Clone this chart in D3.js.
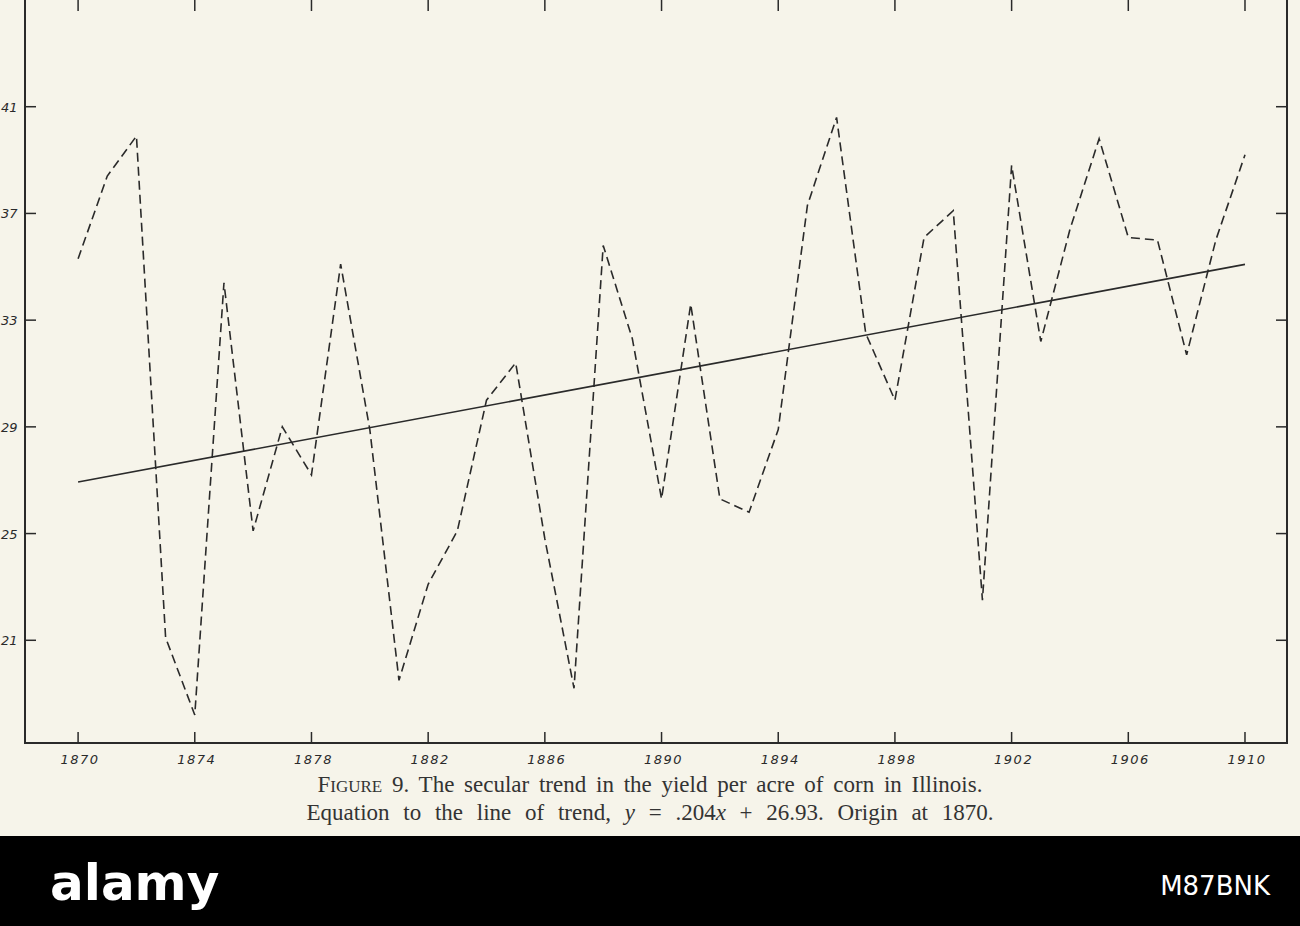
<!DOCTYPE html>
<html><head><meta charset="utf-8">
<script src="https://cdn.jsdelivr.net/npm/d3@7"></script>
<style>body{margin:0;background:#f6f4ea}</style></head>
<body><svg id="c" width="1300" height="926"></svg>
<script>
const years = d3.range(1870, 1911);
const yields = [35.3,38.4,39.9,21.1,18.2,34.4,25.1,29.0,27.2,35.1,28.9,19.5,23.1,25.1,30.0,31.4,24.8,19.2,35.8,32.3,26.3,33.6,26.3,25.8,28.9,37.3,40.6,32.5,30.0,36.1,37.1,22.5,38.8,32.2,36.4,39.8,36.1,36.0,31.7,36.0,39.2];
const xTicks = [1870,1874,1878,1882,1886,1890,1894,1898,1902,1906,1910];
const yTicks = [21,25,29,33,37,41];
const trendA = 26.93, trendB = 0.204;

const svg = d3.select("#c");
svg.append("rect").attr("width",1300).attr("height",926).attr("fill","#f6f4ea");
const L=25,R=1287,T=0,B=743;
const x = d3.scaleLinear().domain([1868.18,1911.44]).range([L,R]);
const y = d3.scaleLinear().domain([17.15,45]).range([B,T]);
const ink="#2a2a2a";
svg.append("rect").attr("x",L).attr("y",T-2).attr("width",R-L).attr("height",B-T+2)
  .attr("fill","none").attr("stroke",ink).attr("stroke-width",2);
const hand = "'DejaVu Sans', sans-serif";
svg.append("g").selectAll("line").data(xTicks).join("line")
  .attr("x1",d=>x(d)).attr("x2",d=>x(d)).attr("y1",B).attr("y2",B-11).attr("stroke",ink).attr("stroke-width",1.5);
svg.append("g").selectAll("line").data(xTicks).join("line")
  .attr("x1",d=>x(d)).attr("x2",d=>x(d)).attr("y1",T).attr("y2",T+11).attr("stroke",ink).attr("stroke-width",1.5);
svg.append("g").selectAll("text").data(xTicks).join("text")
  .attr("x",d=>x(d)+2).attr("y",B+21).attr("text-anchor","middle")
  .attr("font-family",hand).attr("font-style","italic").attr("font-size",13).attr("letter-spacing",1.5)
  .attr("fill",ink).text(d=>d);
svg.append("g").selectAll("line").data(yTicks).join("line")
  .attr("x1",L).attr("x2",L+11).attr("y1",d=>y(d)).attr("y2",d=>y(d)).attr("stroke",ink).attr("stroke-width",1.5);
svg.append("g").selectAll("line").data(yTicks).join("line")
  .attr("x1",R).attr("x2",R-11).attr("y1",d=>y(d)).attr("y2",d=>y(d)).attr("stroke",ink).attr("stroke-width",1.5);
svg.append("g").selectAll("text").data(yTicks).join("text")
  .attr("x",1).attr("y",d=>y(d)+5).attr("font-family",hand).attr("font-style","italic")
  .attr("font-size",13).attr("fill",ink).text(d=>d);
const line = d3.line().x((d,i)=>x(years[i])).y(d=>y(d));
svg.append("path").datum(yields).attr("d",line).attr("fill","none")
  .attr("stroke",ink).attr("stroke-width",1.6).attr("stroke-dasharray","9,5");
svg.append("line").attr("x1",x(1870)).attr("x2",x(1910))
  .attr("y1",y(trendA)).attr("y2",y(trendA+trendB*40)).attr("stroke",ink).attr("stroke-width",1.6);
const cap = svg.append("g").attr("font-family","'Liberation Serif', serif").attr("font-size",23).attr("fill","#333");
const t1 = cap.append("text").attr("x",650).attr("y",792).attr("text-anchor","middle").attr("word-spacing",4);
t1.append("tspan").text("F");
t1.append("tspan").attr("font-size",17).text("IGURE");
t1.append("tspan").text(" 9.  The secular trend in the yield per acre of corn in Illinois.");
const t2 = cap.append("text").attr("x",650).attr("y",820).attr("text-anchor","middle").attr("word-spacing",8);
t2.append("tspan").text("Equation to the line of trend, ");
t2.append("tspan").attr("font-style","italic").text("y");
t2.append("tspan").text(" = .204");
t2.append("tspan").attr("font-style","italic").text("x");
t2.append("tspan").text(" + 26.93.  Origin at 1870.");
svg.append("rect").attr("y",836).attr("width",1300).attr("height",90).attr("fill","#000");
svg.append("text").attr("x",50).attr("y",900).attr("fill","#fff").attr("font-family","'DejaVu Sans', sans-serif")
  .attr("font-weight","bold").attr("font-size",50).text("alamy");
svg.append("text").attr("x",1270).attr("y",895).attr("text-anchor","end").attr("fill","#fff")
  .attr("font-family","'DejaVu Sans', sans-serif").attr("font-size",26).text("M87BNK");
</script></body></html>
